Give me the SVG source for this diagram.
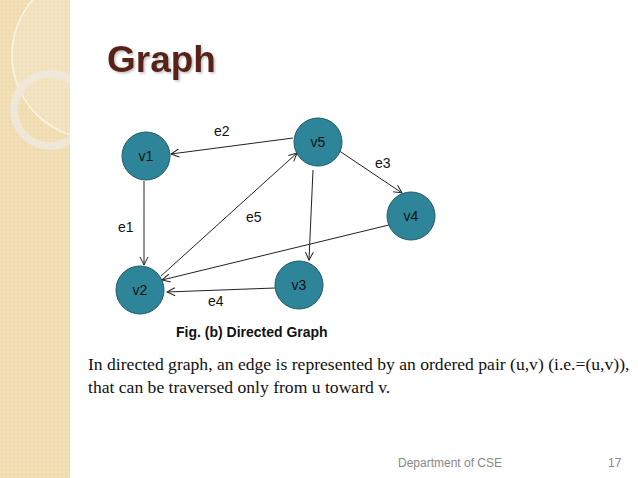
<svg xmlns="http://www.w3.org/2000/svg" width="638" height="478" viewBox="0 0 638 478">
<defs>
<pattern id="dots" width="4" height="4" patternUnits="userSpaceOnUse"><rect width="4" height="4" fill="#f2dfb5"/><circle cx="2" cy="2" r="0.8" fill="#e8d2a0"/></pattern>
<marker id="ar" markerWidth="10" markerHeight="10" refX="9" refY="5" orient="auto" markerUnits="userSpaceOnUse"><path d="M1,1 L9,5 L1,9" fill="none" stroke="#222" stroke-width="1"/></marker>
<filter id="sh"><feDropShadow dx="1.5" dy="1.5" stdDeviation="1" flood-color="#999" flood-opacity="0.6"/></filter>
<clipPath id="cp"><rect width="70" height="478"/></clipPath>
</defs>
<style>
.n{fill:#2e8599;stroke:#1e5a68;stroke-width:1}
.t{font-family:"Liberation Sans",Arial,sans-serif;font-size:14px;fill:#111}
.c line{stroke:#222;stroke-width:1;marker-end:url(#ar)}
</style>
<rect width="638" height="478" fill="#fff"/>
<rect width="70" height="478" fill="url(#dots)"/>
<g clip-path="url(#cp)">
<circle cx="96" cy="55" r="84" fill="#fff" fill-opacity="0.15" stroke="#fbf5e6" stroke-width="1.5"/>
<circle cx="50" cy="110" r="36" fill="none" stroke="#eee8da" stroke-width="8" opacity="0.9"/>
</g>
<text x="107" y="72" font-family="Liberation Sans,Arial,sans-serif" font-weight="bold" font-size="37" fill="#5a2416" filter="url(#sh)">Graph</text>
<g class="c">
<line x1="293" y1="138" x2="171" y2="154"/>
<line x1="144" y1="181" x2="144" y2="265"/>
<line x1="161" y1="276" x2="297" y2="153"/>
<line x1="335" y1="148" x2="402" y2="193"/>
<line x1="313" y1="170" x2="309" y2="260"/>
<line x1="393" y1="224" x2="162" y2="280"/>
<line x1="275" y1="288" x2="167" y2="292"/>
</g>
<g id="v1"><circle class="n" cx="146" cy="156" r="24"/><text class="t" x="146" y="161" text-anchor="middle">v1</text></g>
<g id="v5"><circle class="n" cx="318" cy="142" r="24"/><text class="t" x="318" y="147" text-anchor="middle">v5</text></g>
<g id="v4"><circle class="n" cx="411" cy="216" r="24"/><text class="t" x="411" y="221" text-anchor="middle">v4</text></g>
<g id="v2"><circle class="n" cx="140" cy="290" r="24"/><text class="t" x="140" y="295" text-anchor="middle">v2</text></g>
<g id="v3"><circle class="n" cx="299" cy="285" r="24"/><text class="t" x="299" y="290" text-anchor="middle">v3</text></g>
<text class="t" x="214" y="136">e2</text>
<text class="t" x="375" y="168">e3</text>
<text class="t" x="118" y="232">e1</text>
<text class="t" x="246" y="222">e5</text>
<text class="t" x="208" y="306">e4</text>
<text x="176" y="337" font-family="Liberation Sans,Arial,sans-serif" font-weight="bold" font-size="14" fill="#111">Fig. (b) Directed Graph</text>
<text x="88" y="370" font-family="Liberation Serif,Times New Roman,serif" font-size="17.6" fill="#111">In directed graph, an edge is represented by an ordered pair (u,v) (i.e.=(u,v)),</text>
<text x="88" y="393" font-family="Liberation Serif,Times New Roman,serif" font-size="17.6" fill="#111">that can be traversed only from u toward v.</text>
<text x="398" y="467" font-family="Liberation Sans,Arial,sans-serif" font-size="12" fill="#888">Department of CSE</text>
<text x="608" y="467" font-family="Liberation Sans,Arial,sans-serif" font-size="12" fill="#888">17</text>
</svg>
